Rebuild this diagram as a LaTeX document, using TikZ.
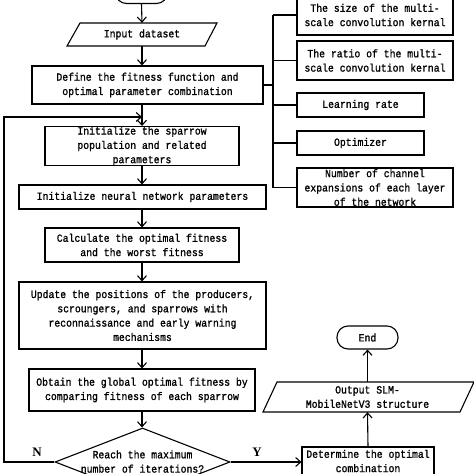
\documentclass[tikz,border=0pt]{standalone}
\usepackage{fontspec}
\setmainfont{Liberation Mono}[FakeStretch=0.89, FakeBold=1.2]
\newfontfamily\lblfont{Liberation Serif}
\usetikzlibrary{arrows.meta,shapes.geometric}
\begin{document}
\begin{tikzpicture}[x=1pt,y=-1pt,
  every node/.style={font=\fontsize{11}{14.3}\selectfont, align=center, inner sep=0pt},
  box/.style={draw, line width=1.1pt, rectangle},
  term/.style={draw, line width=1.1pt, rectangle, rounded corners=11pt},
  cond/.style={draw, line width=1.1pt, diamond, aspect=2.6},
  line/.style={line width=1.1pt, line join=miter},
  arr/.style={line width=1.1pt, -{Straight Barb[length=5pt,width=9pt,line width=1.1pt]}},
  yn/.style={font=\lblfont\bfseries\fontsize{13}{13}\selectfont}
]
\useasboundingbox (0,0) rectangle (474,474);
\clip (0,0) rectangle (474,474);
\fill[white] (0,0) rectangle (474,474);

% main column
\node[term, minimum width=52pt, minimum height=23pt] (start) at (141.5,-8) {};
\node[minimum width=137pt, minimum height=23pt] (input) at (142,34.5) {Input dataset};
\draw[line] (80,23) -- (217,23) -- (205,46) -- (67,46) -- cycle;
\node[box, minimum width=231pt, minimum height=38pt] (define) at (147.5,85) {Define the fitness function and\\optimal parameter combination};
\node[box, minimum width=194pt, minimum height=38pt] (sparrow) at (142,146) {Initialize the sparrow\\population and related\\parameters};
\node[box, minimum width=247pt, minimum height=24pt] (neural) at (142.5,197) {Initialize neural network parameters};
\node[box, minimum width=194pt, minimum height=34pt] (calc) at (142,245) {Calculate the optimal fitness\\and the worst fitness};
\node[box, minimum width=247pt, minimum height=67pt] (update) at (142.5,315.5) {Update the positions of the producers,\\scroungers, and sparrows with\\reconnaissance and early warning\\mechanisms};
\node[box, minimum width=226pt, minimum height=42pt] (obtain) at (142,390) {Obtain the global optimal fitness by\\comparing fitness of each sparrow};
\node[cond, minimum width=175pt, minimum height=68pt] (reach) at (142.5,462) {};
\node (reachtxt) at (142.5,461.5) {Reach the maximum\\number of iterations?};

% right output column
\node[box, minimum width=132pt, minimum height=40pt] (determine) at (368,467) {};
\node (dettxt) at (368,461) {Determine the optimal\\combination};
\node[minimum width=196pt, minimum height=30pt] (output) at (367.5,397) {Output SLM-\\MobileNetV3 structure};
\draw[line] (277,382) -- (474,382) -- (460,412) -- (263,412) -- cycle;
\node[term, minimum width=61pt, minimum height=23pt] (end) at (367.5,337.5) {End};

% parameter boxes
\node[box, minimum width=156pt, minimum height=40pt] (r1) at (375,15) {The size of the multi-\\scale convolution kernal};
\node[box, minimum width=156pt, minimum height=39pt] (r2) at (375,60.5) {The ratio of the multi-\\scale convolution kernal};
\node[box, minimum width=127pt, minimum height=24pt] (r3) at (360.5,105) {Learning rate};
\node[box, minimum width=127pt, minimum height=24pt] (r4) at (360.5,143) {Optimizer};
\node[box, minimum width=156pt, minimum height=39pt] (r5) at (375,187.5) {Number of channel\\expansions of each layer\\of the network};

\coordinate (bus) at (273,85);
\draw[line] (define.east) -- (bus);
\draw[line] (bus |- r1.west) -- (bus |- r5.west);
\foreach \r in {r1,r2,r3,r4,r5} \draw[line] (bus |- \r.west) -- (\r.west);

% main arrows
\draw[arr] (start.south) -- (input.north);
\draw[arr] (input.south) -- (input.south |- define.north);
\draw[arr] (define.south -| sparrow.north) -- (sparrow.north);
\draw[arr] (sparrow.south) -- (neural.north -| sparrow.south);
\draw[arr] (neural.south -| calc.north) -- (calc.north);
\draw[arr] (calc.south) -- (update.north -| calc.south);
\draw[arr] (update.south -| obtain.north) -- (obtain.north);
\draw[arr] (obtain.south) -- (reach.north -| obtain.south);

% loop back
\coordinate (loopL) at (4,462);
\coordinate (loopT) at (4,117);
\coordinate (loopE) at (142,117);
\draw[arr] (reach.west) -- (loopL) -- (loopT) -- (loopE);
\node[yn] (nlab) at (37,452) {N};

% yes branch
\draw[arr] (reach.east) -- (reach.east -| determine.west);
\node[yn] (ylab) at (257,452) {Y};
\draw[arr] (determine.north) -- (output.south);
\draw[arr] (output.north) -- (end.south);
\end{tikzpicture}
\end{document}
